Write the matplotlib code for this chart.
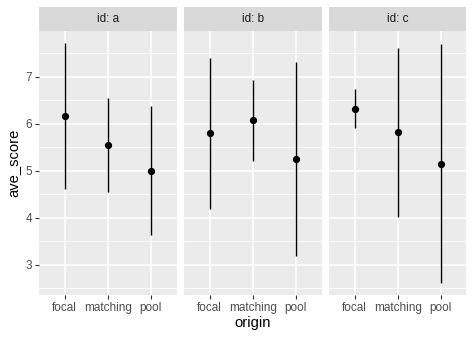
import matplotlib
matplotlib.use("Agg")
import matplotlib.pyplot as plt
import numpy as np

plt.rcParams["font.family"] = ["Liberation Sans", "DejaVu Sans"]

ids = ["a", "b", "c"]
origins = ["focal", "matching", "pool"]
ave_score = {
    "a": [6.17, 5.54, 5.00],
    "b": [5.80, 6.07, 5.25],
    "c": [6.32, 5.82, 5.15],
}
lower = {
    "a": [4.62, 4.54, 3.63],
    "b": [4.18, 5.21, 3.18],
    "c": [5.92, 4.01, 2.61],
}
upper = {
    "a": [7.72, 6.55, 6.37],
    "b": [7.41, 6.93, 7.32],
    "c": [6.73, 7.62, 7.69],
}
y_ticks = [3, 4, 5, 6, 7]

W, H = 474, 338
fig = plt.figure(figsize=(W / 100, H / 100), dpi=100)

# shared y range with ggplot-style 5% expansion
lo = min(min(v) for v in lower.values())
hi = max(max(v) for v in upper.values())
pad = (hi - lo) * 0.05
ylim = (lo - pad, hi + pad)

panel_w, gap = 137.6, 7.3
left0, top_strip, top_panel, bottom = 39.0, 7.0, 31.0, 295.0
x = np.arange(len(origins))

for k, pid in enumerate(ids):
    x0 = left0 + k * (panel_w + gap)
    ax = fig.add_axes([x0 / W, 1 - bottom / H, panel_w / W,
                       (bottom - top_panel) / H])
    ax.set_facecolor("#EBEBEB")
    for s in ax.spines.values():
        s.set_visible(False)
    ax.set_xlim(-0.6, len(origins) - 0.4)
    ax.set_ylim(*ylim)

    for yy in np.arange(2.5, 8.0, 1.0):
        ax.axhline(yy, color="white", lw=0.55, zorder=0)
    for yy in y_ticks:
        ax.axhline(yy, color="white", lw=1.1, zorder=0)
    for xx in x:
        ax.axvline(xx, color="white", lw=1.1, zorder=0)

    ax.vlines(x, lower[pid], upper[pid], color="black", lw=1.0, zorder=2)
    ax.plot(x, ave_score[pid], "o", color="black", ms=4.2, zorder=3)

    ax.set_xticks(x)
    ax.set_xticklabels(origins, fontsize=8.5, color="#4D4D4D")
    ax.set_yticks(y_ticks)
    if k == 0:
        ax.set_yticklabels([str(t) for t in y_ticks], fontsize=8.5,
                           color="#4D4D4D")
        ax.set_ylabel("ave_score", fontsize=10.6, labelpad=3)
    else:
        ax.tick_params(axis="y", left=False, labelleft=False)
    ax.tick_params(length=2.7, width=0.8, color="#333333", pad=2)
    if k == 1:
        ax.set_xlabel("origin", fontsize=10.6, labelpad=2)

    # facet strip
    sax = fig.add_axes([x0 / W, 1 - top_panel / H, panel_w / W,
                        (top_panel - top_strip) / H])
    sax.set_facecolor("#D9D9D9")
    sax.set_xticks([])
    sax.set_yticks([])
    for s in sax.spines.values():
        s.set_visible(False)
    sax.text(0.5, 0.5, f"id: {pid}", ha="center", va="center",
             fontsize=8.5, color="#1A1A1A", transform=sax.transAxes)

fig.savefig("out.png", dpi=100)
